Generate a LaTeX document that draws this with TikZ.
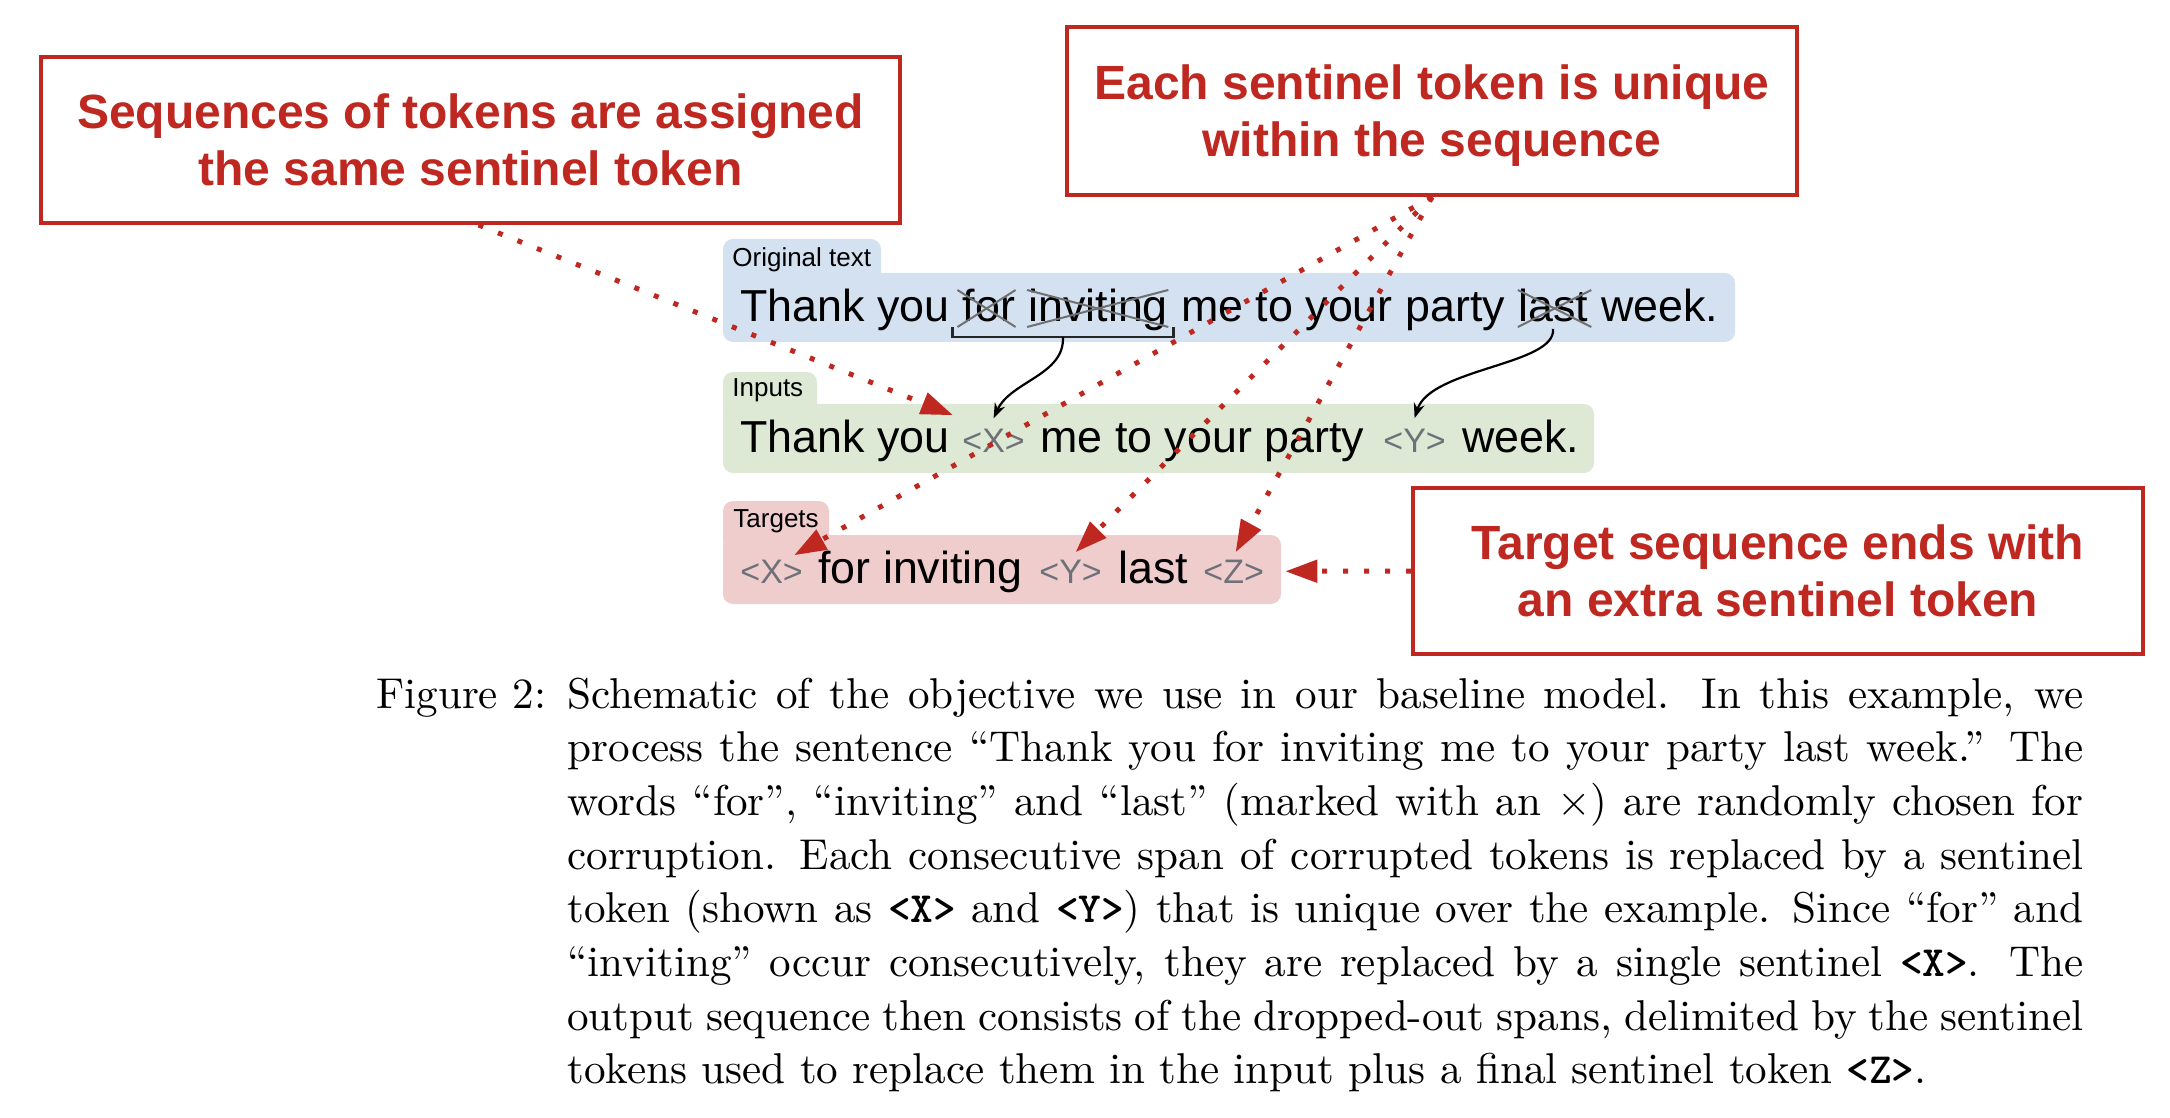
\documentclass[tikz,border=0pt]{standalone}
\usepackage{fontspec}
\usetikzlibrary{arrows.meta,calc}
\newfontfamily\arial{Liberation Sans}
\newfontfamily\capfont{lmroman10-regular}[Extension=.otf]
\newfontfamily\capmono{lmmonolt10-bold}[Extension=.otf]
\definecolor{annred}{RGB}{190,40,32}
\definecolor{origblue}{RGB}{212,225,241}
\definecolor{inpgreen}{RGB}{221,233,213}
\definecolor{tgtpink}{RGB}{240,205,205}
\definecolor{tokgray}{RGB}{110,114,120}
\definecolor{xgray}{RGB}{112,112,112}
\begin{document}
\begin{tikzpicture}[x=0.5pt,y=-0.5pt,
  wordtxt/.style={font=\arial\fontsize{22.4}{26}\selectfont, inner sep=0pt, anchor=base west},
  tok/.style={font=\arial\fontsize{17}{20}\selectfont, text=tokgray, inner sep=0pt, anchor=base west},
  lab/.style={font=\arial\fontsize{13}{15}\selectfont, inner sep=0pt, anchor=base west},
  annot/.style={draw=annred, line width=2pt, text=annred, font=\arial\bfseries\fontsize{24}{28.5}\selectfont, align=center, text depth=0pt, inner sep=0pt},
  redarrow/.style={annred, line width=2.5pt, dash pattern=on 2.5pt off 8pt, -{Triangle[length=16pt,width=11pt]}},
  blackarrow/.style={line width=1.1pt, -{Stealth[length=7.5pt,width=5.5pt]}},
  xmark/.style={xgray, line width=1pt},
  bracketline/.style={line width=1.2pt, black!85},
  captxt/.style={font=\capfont\fontsize{21.56}{26.8}\selectfont, inner sep=0pt, anchor=base west},
]
\useasboundingbox (0,0) rectangle (2170,1118);

% tabbed boxes
\fill[origblue, rounded corners=5pt] (723,239) rectangle (881,290);
\fill[origblue, rounded corners=5pt] (723,273) rectangle (1735,342);
\fill[inpgreen, rounded corners=5pt] (723,372) rectangle (817,420);
\fill[inpgreen, rounded corners=5pt] (723,404) rectangle (1594,473);
\fill[tgtpink, rounded corners=5pt] (723,501) rectangle (829,550);
\fill[tgtpink, rounded corners=5pt] (723,535) rectangle (1281,604);

\node[lab] (lorig) at (732,267) {Original text};
\node[lab] (linp) at (732,397) {Inputs};
\node[lab] (ltgt) at (733,527) {Targets};

% original text
\node[wordtxt] (o1) at (740,322) {Thank you};
\node[wordtxt] (ofor) at ($(o1.base east)+(12.5,0)$) {for};
\node[wordtxt] (oinv) at ($(ofor.base east)+(12.5,0)$) {inviting};
\node[wordtxt] (o2) at ($(oinv.base east)+(12.5,0)$) {me to your party};
\node[wordtxt] (olast) at ($(o2.base east)+(12.5,0)$) {last};
\node[wordtxt] (o3) at ($(olast.base east)+(12.5,0)$) {week.};

% inputs
\node[wordtxt] (i1) at (740,452) {Thank you};
\node[tok] (inX) at (962,452) {<X>};
\node[wordtxt] (i2) at (1040,452) {me to your party};
\node[tok] (inY) at (1383,452) {<Y>};
\node[wordtxt] (i3) at (1462,452) {week.};

% targets
\node[tok] (tgX) at (740,583) {<X>};
\node[wordtxt] (t1) at (818,583) {for inviting};
\node[tok] (tgY) at (1039,583) {<Y>};
\node[wordtxt] (t2) at (1118,583) {last};
\node[tok] (tgZ) at (1203,583) {<Z>};

% crosses
\foreach \n/\a/\b in {ofor/-5/0, oinv/-1/0, olast/0/3} {
  \draw[xmark] ($(\n.base west)+(\a,-32)$) -- ($(\n.base east)+(\b,5)$);
  \draw[xmark] ($(\n.base west)+(\a,5)$) -- ($(\n.base east)+(\b,-32)$);
}

% bracket
\coordinate (brL) at ($(ofor.base west)+(-10,15)$);
\coordinate (brR) at ($(oinv.base east)+(5,15)$);
\coordinate (brM) at ($(brL)!0.5!(brR)$);
\draw[bracketline] ($(brL)+(0,-10)$) -- (brL) -- (brR) -- ($(brR)+(0,-10)$);

% black arrows
\coordinate (k1e) at ($(inX.north)+(0,-10)$);
\draw[blackarrow] (brM) .. controls ($(brM)+(2,38)$) and ($(k1e)+(17,-37)$) .. (k1e);
\coordinate (k2s) at ($(olast.base)+(0,7)$);
\coordinate (k2e) at ($(inY.north)+(0,-10)$);
\draw[blackarrow] (k2s) .. controls ($(k2s)+(3,36)$) and ($(k2e)+(16,-50)$) .. (k2e);

% annotation boxes
\node[annot, minimum width=429.5pt, minimum height=83pt] (b1) at (470.5,140) {Sequences of tokens are assigned\\the same sentinel token};
\node[annot, minimum width=365pt, minimum height=84pt] (b2) at (1432,111) {Each sentinel token is unique\\within the sequence};
\node[annot, minimum width=365pt, minimum height=83pt] (b3) at (1778,571) {Target sequence ends with\\an extra sentinel token};

% red dotted arrows
\draw[redarrow] ($(b1.south)+(8,0)$) -- ($(inX.north west)+(-9,-13)$);
\draw[redarrow] (b2.south) -- ($(tgX.north east)+(-9,-4)$);
\draw[redarrow] (b2.south) -- ($(tgY.north)+(5,-7)$);
\draw[redarrow] (b2.south) -- ($(tgZ.north)+(2,-7)$);
\draw[redarrow] (b3.west) -- ($(tgZ.east)+(21,0)$);

% caption
\node[captxt] (fig) at (376,708) {Figure 2:};
\node[captxt] (c1) at (567,708) {\makebox[758pt][s]{Schematic of the objective we use in our baseline model.  In this example, we}};
\node[captxt] (c2) at (567,761.7) {\makebox[758pt][s]{process the sentence “Thank you for inviting me to your party last week.” The}};
\node[captxt] (c3) at (567,815.4) {\makebox[758pt][s]{words “for”, “inviting” and “last” (marked with an ×) are randomly chosen for}};
\node[captxt] (c4) at (567,869.1) {\makebox[758pt][s]{corruption. Each consecutive span of corrupted tokens is replaced by a sentinel}};
\node[captxt] (c5) at (567,922.8) {\makebox[758pt][s]{token (shown as {\capmono <X>} and {\capmono <Y>}) that is unique over the example. Since “for” and}};
\node[captxt] (c6) at (567,976.5) {\makebox[758pt][s]{“inviting” occur consecutively, they are replaced by a single sentinel {\capmono <X>}.  The}};
\node[captxt] (c7) at (567,1030.2) {\makebox[758pt][s]{output sequence then consists of the dropped-out spans, delimited by the sentinel}};
\node[captxt] (c8) at (567,1083.9) {tokens used to replace them in the input plus a final sentinel token {\capmono <Z>}.};
\end{tikzpicture}
\end{document}
